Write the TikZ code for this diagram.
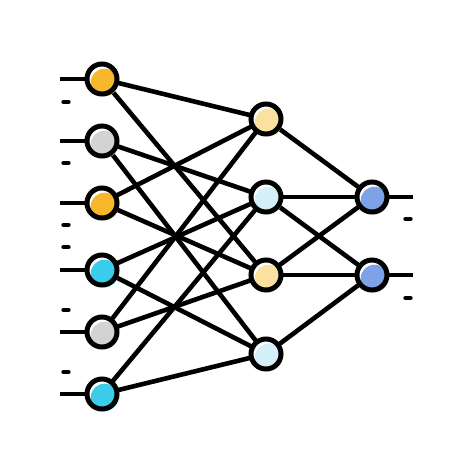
\documentclass[tikz,border=0pt]{standalone}
\definecolor{corange}{HTML}{F8B62A}
\definecolor{cgrey}{HTML}{D3D3D3}
\definecolor{ccyan}{HTML}{3CCCEB}
\definecolor{cyel}{HTML}{FBE1A0}
\definecolor{clblue}{HTML}{D5EFF8}
\definecolor{cblue}{HTML}{7DA2E8}
\tikzset{
  x=1pt, y=-1pt,
  edge/.style={line width=4.6pt, black},
  lead/.style={line width=4.6pt, black},
  dashmark/.style={line width=4.4pt, black, line cap=round},
  ring/.style={line width=5pt, black},
}
\newcommand{\neuron}[2]{%
  \fill[white] (#1) circle (15);
  \fill[#2] ($(#1)+(2.5,3.5)$) circle (13.8);
  \draw[ring] (#1) circle (15);
}
\usetikzlibrary{calc}
\begin{document}
\begin{tikzpicture}
\useasboundingbox (0,0) rectangle (474,474);
\fill[white] (0,0) rectangle (474,474);
% coordinates
\coordinate (i1) at (102,79);
\coordinate (i2) at (102,141);
\coordinate (i3) at (102,203);
\coordinate (i4) at (102,270);
\coordinate (i5) at (102,332);
\coordinate (i6) at (102,394);
\coordinate (h1) at (266,119);
\coordinate (h2) at (266,197);
\coordinate (h3) at (266,275);
\coordinate (h4) at (266,354);
\coordinate (o1) at (372,197);
\coordinate (o2) at (372,275);
% lead ends
\coordinate (l1) at (60,79);
\coordinate (l2) at (60,141);
\coordinate (l3) at (60,203);
\coordinate (l4) at (60,270);
\coordinate (l5) at (60,332);
\coordinate (l6) at (60,394);
\coordinate (r1) at (413,197);
\coordinate (r2) at (413,275);
% leads
\foreach \a/\b in {l1/i1,l2/i2,l3/i3,l4/i4,l5/i5,l6/i6,o1/r1,o2/r2}
  \draw[lead] (\a) -- (\b);
% dashes
\foreach \y in {102,163,225,247,310,372}
  \draw[dashmark] (63.5,\y) -- (68.5,\y);
\foreach \y in {219,298}
  \draw[dashmark] (405.5,\y) -- (410.5,\y);
% edges
\foreach \a/\b in {i1/h1,i1/h3,i2/h2,i2/h4,i3/h1,i3/h3,i4/h2,i4/h4,i5/h1,i5/h3,i6/h2,i6/h4,
                   h1/o1,h2/o1,h2/o2,h3/o1,h3/o2,h4/o2}
  \draw[edge] (\a) -- (\b);
% nodes
\neuron{i1}{corange}
\neuron{i2}{cgrey}
\neuron{i3}{corange}
\neuron{i4}{ccyan}
\neuron{i5}{cgrey}
\neuron{i6}{ccyan}
\neuron{h1}{cyel}
\neuron{h2}{clblue}
\neuron{h3}{cyel}
\neuron{h4}{clblue}
\neuron{o1}{cblue}
\neuron{o2}{cblue}
\end{tikzpicture}
\end{document}
